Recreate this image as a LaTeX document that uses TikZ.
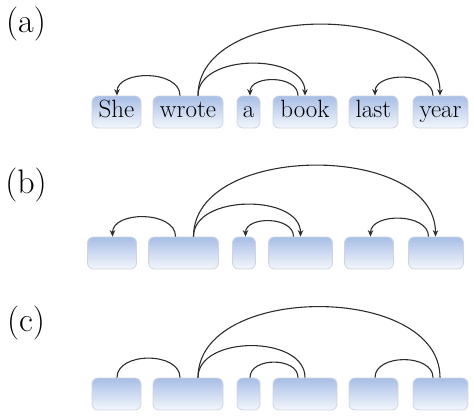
\documentclass[tikz,border=0pt]{standalone}
\usepackage{fontspec}
\usetikzlibrary{arrows.meta}
\definecolor{boxtop}{RGB}{168,190,230}
\definecolor{boxbot}{RGB}{244,247,252}
\definecolor{boxline}{RGB}{206,212,225}
\definecolor{arcline}{RGB}{45,45,45}
\tikzset{
  wbox/.style={rectangle, rounded corners=6pt, draw=boxline, line width=0.8pt,
    top color=boxtop, bottom color=boxbot, minimum height=32pt,
    inner sep=0pt, text height=17pt, text depth=6pt,
    font=\fontsize{25}{30}\selectfont},
  arc/.style={draw=arcline, line width=1.1pt},
  arrowed/.style={-{Stealth[length=6.5pt,width=5.5pt]}},
  lbl/.style={font=\fontsize{34}{40}\selectfont, inner sep=0pt}
}
\newcommand\wordrow[9]{%
  \node[wbox,minimum width=49pt] (#1-1) at (116.5+#3, #2+16) {#4};
  \node[wbox,minimum width=70pt] (#1-2) at (188+#3, #2+16) {#5};
  \node[wbox,minimum width=23pt] (#1-3) at (248.5+#3, #2+16) {#6};
  \node[wbox,minimum width=64pt] (#1-4) at (305+#3, #2+16) {#7};
  \node[wbox,minimum width=49pt] (#1-5) at (373.5+#3, #2+16) {#8};
  \node[wbox,minimum width=55pt] (#1-6) at (440.5+#3, #2+16) {#9};
}
\newcommand\arcrow[2]{%
  \draw[arc,#2] ([xshift=-8pt]#1-2.north) .. controls +(0pt,26pt) and +(0pt,26pt) .. ([xshift=0.5pt]#1-1.north);
  \draw[arc,#2] ([xshift=10pt]#1-2.north) .. controls +(0pt,42.7pt) and +(0pt,42.7pt) .. (#1-4.north);
  \draw[arc,#2] ([xshift=10pt]#1-2.north) .. controls +(0pt,94.7pt) and +(0pt,94.7pt) .. ([xshift=-0.5pt]#1-6.north);
  \draw[arc,#2] ([xshift=-7pt]#1-4.north) .. controls +(0pt,20.7pt) and +(0pt,20.7pt) .. ([xshift=1.5pt]#1-3.north);
  \draw[arc,#2] ([xshift=-7.5pt]#1-6.north) .. controls +(0pt,24pt) and +(0pt,24pt) .. ([xshift=1.5pt]#1-5.north);
}
\begin{document}
\begin{tikzpicture}[x=1pt,y=-1pt]
  \useasboundingbox (0,0) rectangle (474,418);
  \node[lbl] (la) at (26,24) {(a)};
  \node[lbl] (lb) at (26,185) {(b)};
  \node[lbl] (lc) at (26,323) {(c)};
  \wordrow{a}{96}{0}{She}{wrote}{a}{book}{last}{year}
  \arcrow{a}{arrowed}
  \wordrow{b}{237}{-4.5}{}{}{}{}{}{}
  \arcrow{b}{arrowed}
  \wordrow{c}{378}{0}{}{}{}{}{}{}
  \arcrow{c}{}
\end{tikzpicture}
\end{document}
